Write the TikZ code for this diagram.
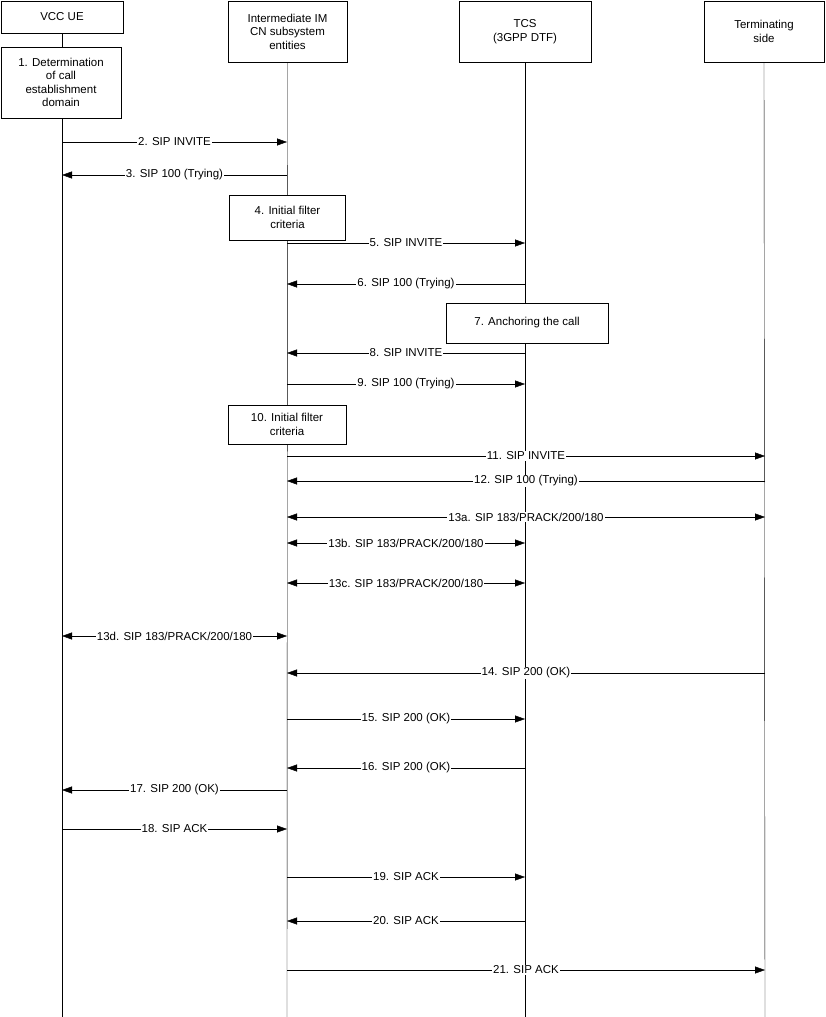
\documentclass[tikz,border=0pt]{standalone}
\usepackage{fontspec}
\setmainfont{Liberation Sans}
\usetikzlibrary{arrows.meta}
\begin{document}
\begin{tikzpicture}[x=1pt,y=-1pt,
  every node/.style={font=\fontsize{11.5}{13.5}\selectfont},
  box/.style={draw,fill=white,align=center,inner sep=2pt},
  msg/.style={-{Triangle[length=10pt,width=7pt]}},
  dmsg/.style={{Triangle[length=10pt,width=7pt]}-{Triangle[length=10pt,width=7pt]}},
  lab/.style={fill=white,inner sep=1pt}]
\useasboundingbox (0,0) rectangle (826,1017);
% headers
\node[box,minimum width=122pt,minimum height=32pt] (h1) at (62,17) {VCC UE};
\node[box,minimum width=119pt,minimum height=61pt] (h2) at (287.5,31.5) {Intermediate IM\\CN subsystem\\entities};
\node[box,minimum width=132pt,minimum height=61pt] (h3) at (525,31.5) {TCS\\(3GPP DTF)};
\node[box,minimum width=120pt,minimum height=61pt] (h4) at (764,31.5) {Terminating\\side};
\coordinate (e1) at (62,1017); \coordinate (e2) at (287,1017);
\coordinate (e3) at (525,1017); \coordinate (e4) at (765,1017);
\draw (h1.south) -- (e1); \draw (h2.south) -- (e2);
\draw (h3.south) -- (e3); \draw (h4.south) -- (e4);
\node[box,minimum width=120pt,minimum height=71pt] (b1) at (61,82.5) {1. Determination\\of call\\establishment\\domain};
\node[box,minimum width=116pt,minimum height=45pt] (b4) at (287.5,217.5) {4. Initial filter\\criteria};
\node[box,minimum width=162pt,minimum height=40pt] (b7) at (527,323) {7. Anchoring the call};
\node[box,minimum width=118pt,minimum height=39pt] (b10) at (287,424.5) {10. Initial filter\\criteria};
% message helper
\newcommand{\mymsg}[6]{%
  \coordinate (#1a) at (#2,#4); \coordinate (#1b) at (#3,#4);
  \draw[#5] (#1a) -- node[lab] {#6} (#1b);}
\mymsg{m2}{62}{287}{142}{msg}{2. SIP INVITE}
\mymsg{m3}{287}{62}{175}{msg}{3. SIP 100 (Trying)}
\mymsg{m5}{287}{525}{243}{msg}{5. SIP INVITE}
\mymsg{m6}{525}{287}{284}{msg}{6. SIP 100 (Trying)}
\mymsg{m8}{525}{287}{353}{msg}{8. SIP INVITE}
\mymsg{m9}{287}{525}{384}{msg}{9. SIP 100 (Trying)}
\mymsg{m11}{287}{765}{456}{msg}{11. SIP INVITE}
\mymsg{m12}{765}{287}{481}{msg}{12. SIP 100 (Trying)}
\mymsg{m13a}{287}{765}{517}{dmsg}{13a. SIP 183/PRACK/200/180}
\mymsg{m13b}{287}{525}{543}{dmsg}{13b. SIP 183/PRACK/200/180}
\mymsg{m13c}{287}{525}{583}{dmsg}{13c. SIP 183/PRACK/200/180}
\mymsg{m13d}{62}{287}{636}{dmsg}{13d. SIP 183/PRACK/200/180}
\mymsg{m14}{765}{287}{673}{msg}{14. SIP 200 (OK)}
\mymsg{m15}{287}{525}{719}{msg}{15. SIP 200 (OK)}
\mymsg{m16}{525}{287}{768}{msg}{16. SIP 200 (OK)}
\mymsg{m17}{287}{62}{790}{msg}{17. SIP 200 (OK)}
\mymsg{m18}{62}{287}{829}{msg}{18. SIP ACK}
\mymsg{m19}{287}{525}{877}{msg}{19. SIP ACK}
\mymsg{m20}{525}{287}{921}{msg}{20. SIP ACK}
\mymsg{m21}{287}{765}{970}{msg}{21. SIP ACK}
\end{tikzpicture}
\end{document}
